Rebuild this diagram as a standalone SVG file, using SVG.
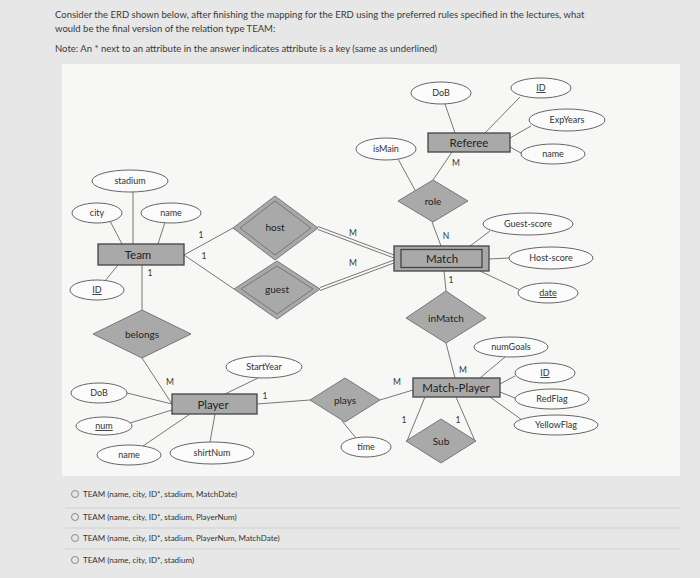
<svg xmlns="http://www.w3.org/2000/svg" width="700" height="578" viewBox="0 0 700 578">
<style>
text{font-family:Lato,"Liberation Sans",sans-serif;fill:#333}
.q{font-size:9.5px;fill:#3a3a3a}
.a{font-size:8px}
.e ellipse{fill:#fbfbfb;stroke:#666;stroke-width:1}
.e text{font-size:9px;text-anchor:middle}
.r rect{fill:#a9a9a9;stroke:#444;stroke-width:1.3}
.r text{font-size:11.5px;text-anchor:middle;fill:#222}
.d polygon{fill:#a9a9a9;stroke:#777;stroke-width:1}
.d text{font-size:10px;text-anchor:middle;fill:#222}
.c line{stroke:#777;stroke-width:1}
.k{font-size:8.5px;fill:#333;text-anchor:middle}
</style>
<rect width="700" height="578" fill="#e6e7e6"/>
<rect x="62" y="64" width="618" height="412" fill="#f7f7f6"/>
<text class="q" x="55" y="18">Consider the ERD shown below, after finishing the mapping for the ERD using the preferred rules specified in the lectures, what</text>
<text class="q" x="55" y="32">would be the final version of the relation type TEAM:</text>
<text class="q" x="55" y="52">Note: An * next to an attribute in the answer indicates attribute is a key (same as underlined)</text>
<g stroke="#cfd0cf"><line x1="65" y1="508" x2="680" y2="508"/><line x1="65" y1="528" x2="680" y2="528"/><line x1="65" y1="549" x2="680" y2="549"/></g>
<g fill="none" stroke="#888"><circle cx="75" cy="494" r="3.5"/><circle cx="75" cy="517" r="3.5"/><circle cx="75" cy="538" r="3.5"/><circle cx="75" cy="560" r="3.5"/></g>
<text class="a" x="83" y="497">TEAM (name, city, ID*, stadium, MatchDate)</text>
<text class="a" x="83" y="520">TEAM (name, city, ID*, stadium, PlayerNum)</text>
<text class="a" x="83" y="541">TEAM (name, city, ID*, stadium, PlayerNum, MatchDate)</text>
<text class="a" x="83" y="563">TEAM (name, city, ID*, stadium)</text>
<g class="c" id="connectors">
<line x1="133" y1="192" x2="133" y2="244"/><line x1="110" y1="221" x2="122" y2="244"/><line x1="165" y1="222" x2="158" y2="244"/><line x1="105" y1="281" x2="118" y2="265"/>
<line x1="184" y1="255" x2="233" y2="228"/><line x1="184" y1="255" x2="234" y2="289"/>
<line x1="318" y1="226.5" x2="394" y2="255"/><line x1="318" y1="229.5" x2="394" y2="258"/>
<line x1="320" y1="287.5" x2="394" y2="260"/><line x1="320" y1="290.5" x2="394" y2="263"/>
<line x1="142" y1="265" x2="142" y2="310"/><line x1="142" y1="358" x2="172" y2="404"/>
<line x1="127" y1="393" x2="172" y2="404"/><line x1="130" y1="423" x2="172" y2="410"/><line x1="143" y1="446" x2="190" y2="414"/><line x1="210" y1="442" x2="215" y2="414"/><line x1="258" y1="378" x2="225" y2="394"/>
<line x1="257" y1="404" x2="310" y2="400"/><line x1="380" y1="400" x2="413" y2="390"/><line x1="342" y1="421" x2="356" y2="438"/>
<line x1="441" y1="246" x2="432" y2="222"/><line x1="433" y1="180" x2="452" y2="152"/><line x1="398" y1="159" x2="415" y2="190"/>
<line x1="455" y1="133" x2="445" y2="104"/><line x1="485" y1="133" x2="520" y2="97"/><line x1="510" y1="138" x2="531" y2="126"/><line x1="510" y1="147" x2="521" y2="153"/>
<line x1="470" y1="246" x2="490" y2="231"/><line x1="489" y1="259" x2="509" y2="258"/><line x1="480" y1="271" x2="520" y2="290"/>
<line x1="444" y1="271" x2="446" y2="291"/><line x1="446" y1="343" x2="455" y2="378"/>
<line x1="480" y1="378" x2="505" y2="357"/><line x1="500" y1="384" x2="515" y2="376"/><line x1="500" y1="392" x2="515" y2="398"/><line x1="490" y1="397" x2="522" y2="420"/>
<line x1="425" y1="397" x2="407" y2="441"/><line x1="456" y1="397" x2="475" y2="441"/>
</g>
<g class="k">
<text x="201" y="238">1</text><text x="204" y="259">1</text><text x="353" y="236">M</text><text x="353" y="266">M</text>
<text x="446" y="239">N</text><text x="456" y="166">M</text><text x="451" y="283">1</text><text x="150" y="276">1</text>
<text x="170" y="385">M</text><text x="265" y="399">1</text><text x="397" y="385">M</text><text x="463" y="373">M</text><text x="404" y="423">1</text><text x="458" y="423">1</text>
</g>
<g class="r" id="team"><rect x="98" y="244" width="86" height="21"/><text x="138" y="259">Team</text></g>
<g class="r" id="player"><rect x="172" y="394" width="85" height="20"/><text x="213" y="409">Player</text></g>
<g class="r" id="match"><rect x="394" y="246" width="95" height="25"/><rect x="401" y="249.5" width="81" height="18"/><text x="442" y="263">Match</text></g>
<g class="r" id="referee"><rect x="428" y="133" width="82" height="19"/><text x="469" y="147">Referee</text></g>
<g class="r" id="match-player"><rect x="413" y="378" width="87" height="19"/><text x="456" y="392">Match-Player</text></g>
<g class="d" id="host"><polygon points="275,196 318,228 275,260 233,228"/><polygon points="275,201 311,228 275,255 240,228"/><text x="275" y="231">host</text></g>
<g class="d" id="guest"><polygon points="277,261 320,289 277,319 234,289"/><polygon points="277,266 313,289 277,314 241,289"/><text x="277" y="293">guest</text></g>
<g class="d" id="role"><polygon points="433,180 468,201 433,222 398,201"/><text x="433" y="205">role</text></g>
<g class="d" id="inMatch"><polygon points="446,291 486,318 446,343 406,318"/><text x="446" y="322">inMatch</text></g>
<g class="d" id="belongs"><polygon points="142,310 191,334 142,358 93,334"/><text x="142" y="338">belongs</text></g>
<g class="d" id="plays"><polygon points="345,378 380,400 345,422 310,400"/><text x="345" y="404">plays</text></g>
<g class="d" id="sub"><polygon points="441,419 476,441 441,463 406,441"/><text x="441" y="445">Sub</text></g>
<g class="e" id="stadium"><ellipse cx="130" cy="181" rx="38" ry="11"/><text x="130" y="184">stadium</text></g>
<g class="e" id="city"><ellipse cx="97" cy="213" rx="25" ry="10"/><text x="97" y="216">city</text></g>
<g class="e" id="team-name"><ellipse cx="171" cy="213" rx="30" ry="10"/><text x="171" y="216">name</text></g>
<g class="e" id="team-id"><ellipse cx="97" cy="290" rx="27" ry="10"/><text x="97" y="293" text-decoration="underline">ID</text></g>
<g class="e" id="ref-dob"><ellipse cx="441" cy="93" rx="30" ry="11"/><text x="441" y="96">DoB</text></g>
<g class="e" id="ref-id"><ellipse cx="541" cy="88" rx="30" ry="10"/><text x="541" y="91" text-decoration="underline">ID</text></g>
<g class="e" id="expyears"><ellipse cx="567" cy="120" rx="38" ry="11"/><text x="567" y="123">ExpYears</text></g>
<g class="e" id="ref-name"><ellipse cx="553" cy="154" rx="32" ry="10"/><text x="553" y="157">name</text></g>
<g class="e" id="ismain"><ellipse cx="386" cy="149" rx="30" ry="11"/><text x="386" y="152">isMain</text></g>
<g class="e" id="guest-score"><ellipse cx="528" cy="224" rx="45" ry="11"/><text x="528" y="227">Guest-score</text></g>
<g class="e" id="host-score"><ellipse cx="551" cy="258" rx="42" ry="11"/><text x="551" y="261">Host-score</text></g>
<g class="e" id="date"><ellipse cx="548" cy="293" rx="30" ry="10"/><text x="548" y="296" text-decoration="underline">date</text></g>
<g class="e" id="numgoals"><ellipse cx="511" cy="347" rx="37" ry="10"/><text x="511" y="350">numGoals</text></g>
<g class="e" id="mp-id"><ellipse cx="545" cy="373" rx="30" ry="10"/><text x="545" y="376" text-decoration="underline">ID</text></g>
<g class="e" id="redflag"><ellipse cx="552" cy="399" rx="37" ry="10"/><text x="552" y="402">RedFlag</text></g>
<g class="e" id="yellowflag"><ellipse cx="556" cy="425" rx="42" ry="10"/><text x="556" y="428">YellowFlag</text></g>
<g class="e" id="startyear"><ellipse cx="264" cy="367" rx="38" ry="11"/><text x="264" y="370">StartYear</text></g>
<g class="e" id="pl-dob"><ellipse cx="99" cy="393" rx="28" ry="10"/><text x="99" y="396">DoB</text></g>
<g class="e" id="num"><ellipse cx="104" cy="426" rx="28" ry="9"/><text x="104" y="429" text-decoration="underline">num</text></g>
<g class="e" id="pl-name"><ellipse cx="129" cy="455" rx="32" ry="10"/><text x="129" y="458">name</text></g>
<g class="e" id="shirtnum"><ellipse cx="212" cy="453" rx="42" ry="11"/><text x="212" y="456">shirtNum</text></g>
<g class="e" id="time"><ellipse cx="366" cy="447" rx="25" ry="10"/><text x="366" y="450">time</text></g>
</svg>
